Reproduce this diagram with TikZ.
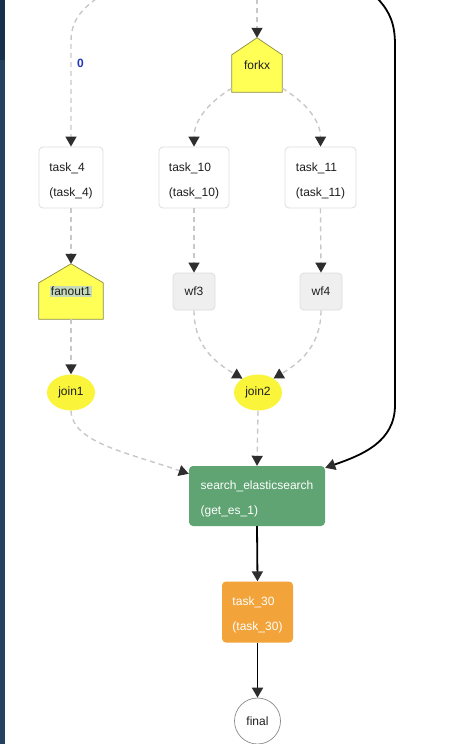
\documentclass[tikz,border=0pt]{standalone}
\usepackage{fontspec}
\setmainfont{Liberation Sans}
\usetikzlibrary{arrows.meta,calc,backgrounds,shapes.geometric}
\definecolor{navy}{HTML}{24425F}
\definecolor{navydark}{HTML}{17304C}
\definecolor{boxborder}{HTML}{DDDDDD}
\definecolor{wffill}{HTML}{EFEFEF}
\definecolor{housefill}{HTML}{FFFF55}
\definecolor{houseborder}{HTML}{8C8C3C}
\definecolor{joinfill}{HTML}{FAF53A}
\definecolor{greenfill}{HTML}{5FA472}
\definecolor{orangefill}{HTML}{F2A33A}
\definecolor{dashgray}{HTML}{C8C8C8}
\definecolor{tipgray}{HTML}{2E2E2E}
\definecolor{labelblue}{HTML}{2236BC}
\definecolor{hlcolor}{HTML}{C4DAB8}
\definecolor{textdark}{HTML}{1E1E1E}
\definecolor{finalborder}{HTML}{8A8A8A}
\newcommand\mytwolines[2]{\rule{0pt}{15pt}#1\\#2}
\begin{document}
\begin{tikzpicture}[x=1pt,y=-1pt,
  basefont/.style={font=\fontsize{12}{25}\selectfont, text=textdark},
  taskbox/.style={basefont, draw=boxborder, fill=white, rounded corners=4pt,
    minimum width=#1, minimum height=61pt, align=left, inner sep=0pt, line width=0.8pt},
  wfbox/.style={basefont, draw=boxborder, fill=wffill, rounded corners=4pt,
    minimum width=42pt, minimum height=37pt, inner sep=0pt, line width=0.8pt},
  housenode/.style={basefont, inner sep=0pt, minimum width=#1, minimum height=54pt},
  houseshape/.style={fill=housefill, draw=houseborder, line width=0.7pt},
  joinnode/.style={basefont, ellipse, fill=joinfill, minimum width=48pt, minimum height=36pt, inner sep=0pt},
  colorbox/.style={basefont, text=white, fill=#1, rounded corners=4pt, minimum height=60pt,
    align=left, inner sep=0pt},
  finalnode/.style={basefont, circle, draw=finalborder, fill=white, minimum size=46pt, inner sep=0pt, line width=0.7pt},
  dashededge/.style={draw=dashgray, line width=1.4pt, dash pattern=on 5pt off 4pt,
    -{Triangle[width=11pt,length=10pt,color=tipgray]}},
  solidedge/.style={draw=black, line width=1.8pt,
    -{Triangle[width=11pt,length=10pt,color=tipgray]}},
  edgelabel/.style={font=\fontsize{12}{14}\selectfont\bfseries, text=labelblue}
]
\useasboundingbox (0,0) rectangle (474,744);

% nodes
\node[housenode=50pt] (forkx) at (257,65) {forkx};
\node[taskbox=64pt] (task4) at (71,177.5) {\mytwolines{task\_4}{(task\_4)}};
\node[taskbox=70pt] (task10) at (194,177.5) {\mytwolines{task\_10}{(task\_10)}};
\node[taskbox=71pt] (task11) at (320.5,177.5) {\mytwolines{task\_11}{(task\_11)}};
\node[housenode=64pt, minimum height=55pt] (fanout) at (71,291.5)
  {\setlength\fboxsep{1pt}\colorbox{hlcolor}{fanout1}};
\node[wfbox] (wf3) at (194,291.5) {wf3};
\node[wfbox] (wf4) at (321,291.5) {wf4};
\node[joinnode] (join1) at (71,392.5) {join1};
\node[joinnode] (join2) at (258,392.5) {join2};
\node[colorbox=greenfill, minimum width=136pt] (search) at (257,496) {\mytwolines{search\_elasticsearch}{(get\_es\_1)}};
\node[colorbox=orangefill, minimum width=71pt, minimum height=61pt] (task30) at (257.5,612) {\mytwolines{task\_30}{(task\_30)}};
\node[finalnode] (final) at (257.5,721) {final};

\coordinate (topleft) at (96,-1);
\coordinate (topmid) at (257,-1);
\coordinate (topright) at (378,-1);

\begin{scope}[on background layer]
  \fill[white] (0,0) rectangle (474,744);
  \fill[navy] (0,0) rectangle (4.5,744);
  \fill[navydark] (0,0) rectangle (4.5,60);
  \filldraw[houseshape] (forkx.north) -- ($(forkx.north east)+(0,17)$) -- (forkx.south east)
    -- (forkx.south west) -- ($(forkx.north west)+(0,17)$) -- cycle;
  \filldraw[houseshape] (fanout.north) -- ($(fanout.north east)+(0,19)$) -- (fanout.south east)
    -- (fanout.south west) -- ($(fanout.north west)+(0,19)$) -- cycle;
\end{scope}

% edges
\draw[dashededge] (topleft) .. controls (78,12) and (71,24) .. (71,42) -- (task4.north)
  node[edgelabel, pos=0.2, right=2pt] {0};
\draw[dashededge] (topmid) -- (forkx.north);
\draw[dashededge] ($(forkx.south west)+(0,-4)$) .. controls (206,104) and (194,122) .. (task10.north);
\draw[dashededge] ($(forkx.south east)+(0,-4)$) .. controls (308,104) and (320.5,122) .. (task11.north);
\draw[dashededge] (task4.south) -- (fanout.north);
\draw[dashededge] (task10.south) -- (wf3.north);
\draw[dashededge] (task11.south) -- (wf4.north);
\draw[dashededge] (fanout.south) -- (join1.north);
\draw[dashededge] (wf3.south) .. controls (194,345) and (214,362) .. (join2.138);
\draw[dashededge] (wf4.south) .. controls (321,345) and (301,362) .. (join2.42);
\draw[dashededge] (join1.south) .. controls (72,442) and (125,452) .. ($(search.north west)+(0,8)$);
\draw[dashededge] (join2.south) -- (search.north);
\draw[solidedge] (topright) .. controls (390,12) and (395,24) .. (395,45) -- (395,405)
  .. controls (395,442) and (362,455) .. ($(search.north east)+(0,2)$);
\draw[solidedge] (search.south) -- (task30.north);
\draw[solidedge] (task30.south) -- (final.north);
\end{tikzpicture}
\end{document}
